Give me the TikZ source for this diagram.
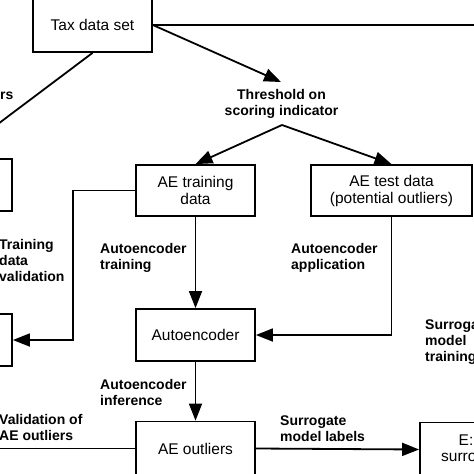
\documentclass[tikz,border=0pt]{standalone}
\usepackage{fontspec}
\setmainfont{Liberation Sans}
\usetikzlibrary{arrows.meta,calc}
\begin{document}
\begin{tikzpicture}[x=1pt,y=-1pt,
  box/.style={draw, line width=1.8pt, minimum width=119pt, minimum height=51pt, align=center, inner sep=0pt, font=\fontsize{15.5}{17}\selectfont},
  lbl/.style={font=\bfseries\fontsize{14}{16}\selectfont, align=left, inner sep=0pt, anchor=west},
  conn/.style={line width=1.8pt},
  arr/.style={conn, -{Triangle[length=17pt,width=13pt]}}]
\useasboundingbox (0,0) rectangle (474,474);
\clip (0,0) rectangle (474,474);
% boxes
\node[box, minimum height=54pt] (tax) at (92.5,25) {Tax data set};
\node[box] (aetrain) at (195.5,190.5) {AE training\\data};
\node[box, minimum width=161pt] (aetest) at (391.5,190.5) {AE test data\\(potential outliers)};
\node[box, minimum width=72pt, minimum height=52pt] (lbox1) at (-24,185) {};
\node[box, minimum width=72pt, minimum height=52pt] (lbox2) at (-24,340) {};
\node[box, minimum height=52pt] (auto) at (195.5,335) {Autoencoder};
\node[box, minimum height=54pt] (aeout) at (195.5,448.5) {AE outliers};
\node[box, minimum height=54pt] (ebox) at (479.5,449.5) {};
\node[font=\fontsize{15.5}{17}\selectfont, anchor=west, inner sep=0pt] (etext1) at (458.5,440) {E:};
\node[font=\fontsize{15.5}{17}\selectfont, anchor=west, inner sep=0pt] (etext2) at (441,457) {surro};
% labels
\node[lbl, anchor=east] (rs) at (13.5,96) {rs};
\node[lbl, align=center, anchor=center] (thr) at (281.5,104) {Threshold on\\scoring indicator};
\node[lbl] (tdv) at (-1,260) {Training\\data\\validation};
\node[lbl] (aetr) at (100,258) {Autoencoder\\training};
\node[lbl] (aeap) at (291,258) {Autoencoder\\application};
\node[lbl] (smt) at (425,342) {Surrogate\\model\\training};
\node[lbl] (aein) at (100,392) {Autoencoder\\inference};
\node[lbl] (vao) at (-1,427) {Validation of\\AE outliers};
\node[lbl] (sml) at (280,429) {Surrogate\\model labels};
% coordinates
\coordinate (right1) at (490,25);
\coordinate (thrtip) at (281,82);
\coordinate (apex) at (282,125);
\coordinate (lo1) at (-26,142);
\coordinate (vleft) at (-20,448.5);
% connectors
\draw[conn] (tax.east) -- (right1);
\draw[arr] (tax.east) -- (thrtip);
\draw[conn] (tax.south) -- (lo1);
\draw[arr] (apex) -- (aetrain.north);
\draw[arr] (apex) -- (aetest.north);
\draw[arr] (aetrain.west) -- ++(-62,0) |- (lbox2.east);
\draw[arr] (aetrain.south) -- (auto.north);
\draw[arr] (aetest.south) |- (auto.east);
\draw[arr] (auto.south) -- (aeout.north);
\draw[conn] (vleft) -- (aeout.west);
\draw[arr] (aeout.east) -- (ebox.west);
\end{tikzpicture}
\end{document}
